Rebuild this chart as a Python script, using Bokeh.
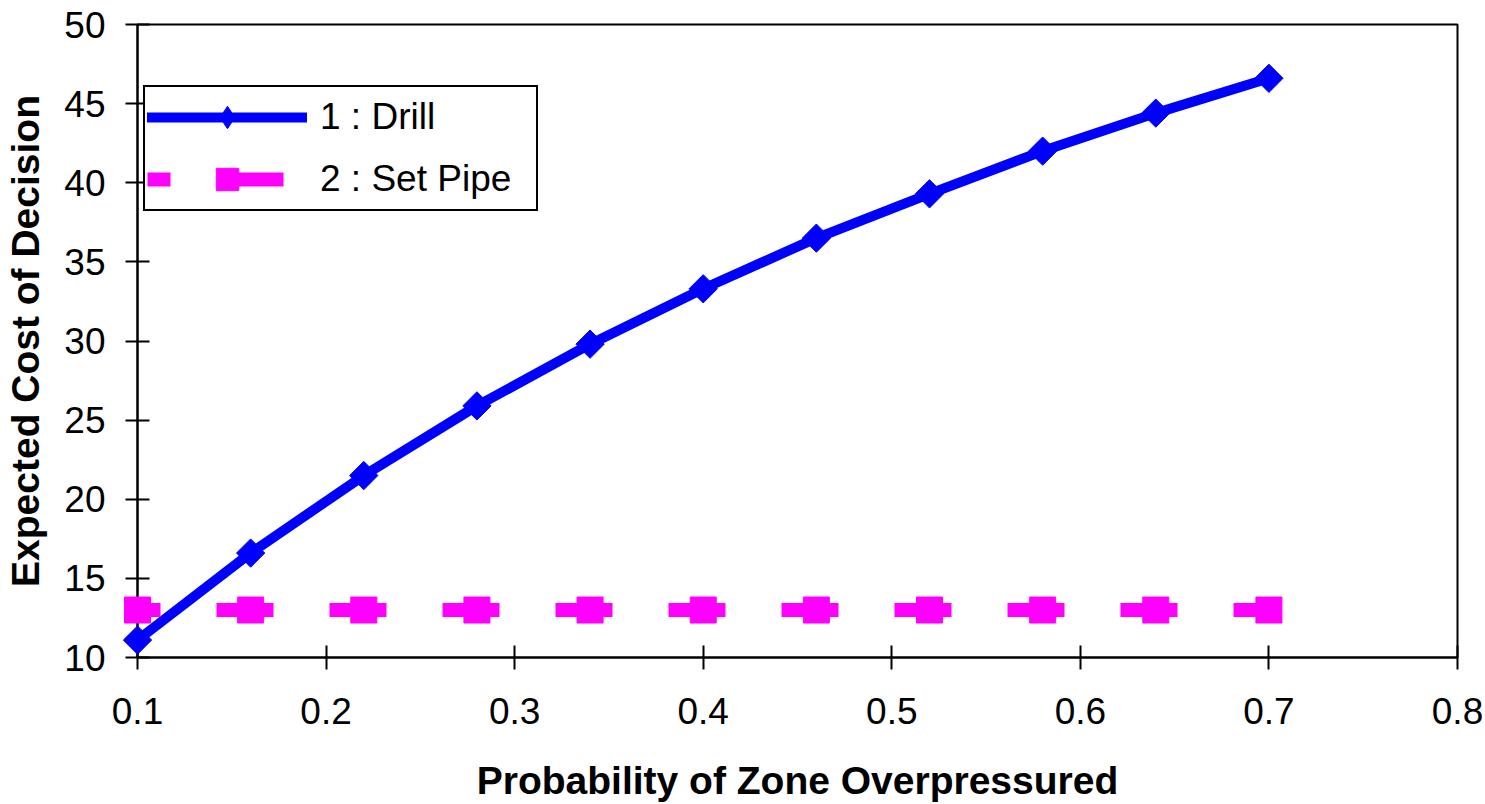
from bokeh.plotting import figure
from bokeh.models import Range1d, Legend, LegendItem, FixedTicker
from bokeh.embed import file_html
from bokeh.resources import INLINE
import numpy as np

# Probability that the zone is overpressured
prob = [0.10, 0.16, 0.22, 0.28, 0.34, 0.40, 0.46, 0.52, 0.58, 0.64, 0.70]
# Expected cost of each decision
drill_cost = [11.1, 16.6, 21.5, 25.9, 29.8, 33.3, 36.5, 39.3, 42.0, 44.4, 46.6]
set_pipe_cost = [13.0, 13.0, 13.0, 13.0, 13.0, 13.0, 13.0, 13.0, 13.0, 13.0, 13.0]

x_ticks = [0.1, 0.2, 0.3, 0.4, 0.5, 0.6, 0.7, 0.8]
y_ticks = [10, 15, 20, 25, 30, 35, 40, 45, 50]

x_title = "Probability of Zone Overpressured"
y_title = "Expected Cost of Decision"
series_names = ["1 : Drill", "2 : Set Pipe"]

FONT = "Liberation Sans"
BLUE = "#0000FF"
MAGENTA = "#FF00FF"

p = figure(
    width=1485, height=804,
    x_range=Range1d(0.1, 0.8), y_range=Range1d(10, 50),
    output_backend="svg", toolbar_location=None,
    min_border_left=137, min_border_right=28,
    min_border_top=24, min_border_bottom=146,
    background_fill_color="white", border_fill_color="white",
)
p.xgrid.visible = False
p.ygrid.visible = False
p.outline_line_color = "black"
p.outline_line_width = 2
p.outline_line_alpha = 1.0

for ax in (p.xaxis, p.yaxis):
    ax.axis_line_color = "black"
    ax.axis_line_width = 2
    ax.major_tick_line_color = "black"
    ax.major_tick_line_width = 2
    ax.major_tick_in = 12
    ax.major_tick_out = 12
    ax.minor_tick_line_color = None
    ax.major_label_text_font = FONT
    ax.major_label_text_font_size = "37px"
    ax.major_label_text_color = "black"
    ax.axis_label_text_font = FONT
    ax.axis_label_text_font_size = "39px"
    ax.axis_label_text_font_style = "bold"
    ax.axis_label_text_color = "black"

p.xaxis.ticker = FixedTicker(ticks=x_ticks)
p.yaxis.ticker = FixedTicker(ticks=y_ticks)
p.xaxis.major_label_standoff = 28
p.yaxis.major_label_standoff = 20
p.xaxis.axis_label = x_title
p.yaxis.axis_label = y_title
p.xaxis.axis_label_standoff = 32
p.yaxis.axis_label_standoff = 14

# Decision 1: drill ahead.  A narrow diamond hidden under each point
# provides the legend swatch.
drill_line = p.line(prob, drill_cost, line_color=BLUE, line_width=10,
                    line_cap="round", line_join="round", level="overlay")
drill_key = p.scatter(prob, drill_cost, marker="diamond", size=20,
                      fill_color=BLUE, line_color=BLUE, level="overlay")
drill_pts = p.scatter(prob, drill_cost, marker="square", angle=np.pi / 4,
                      size=20, fill_color=BLUE, line_color=BLUE,
                      level="overlay")

# Decision 2: set pipe (constant cost)
pipe_line = p.line(prob, set_pipe_cost, line_color=MAGENTA, line_width=14,
                   line_dash="57 56", line_dash_offset=34, level="overlay")
pipe_pts = p.scatter(prob, set_pipe_cost, marker="square", size=26,
                     fill_color=MAGENTA, line_color=MAGENTA, level="overlay")

legend = Legend(
    items=[
        LegendItem(label=series_names[0], renderers=[drill_line, drill_key]),
        LegendItem(label=series_names[1], renderers=[pipe_line, pipe_pts]),
    ],
    location=(6, 446),
    margin=0,
    padding=2,
    spacing=6,
    glyph_width=160,
    glyph_height=56,
    label_standoff=13,
    label_width=214,
    label_text_font=FONT,
    label_text_font_size="37px",
    label_text_color="black",
    border_line_color="black",
    border_line_width=2,
    border_line_alpha=1.0,
    background_fill_color="white",
    background_fill_alpha=1.0,
)
p.add_layout(legend)

open("out.html", "w").write(file_html(p, INLINE))
